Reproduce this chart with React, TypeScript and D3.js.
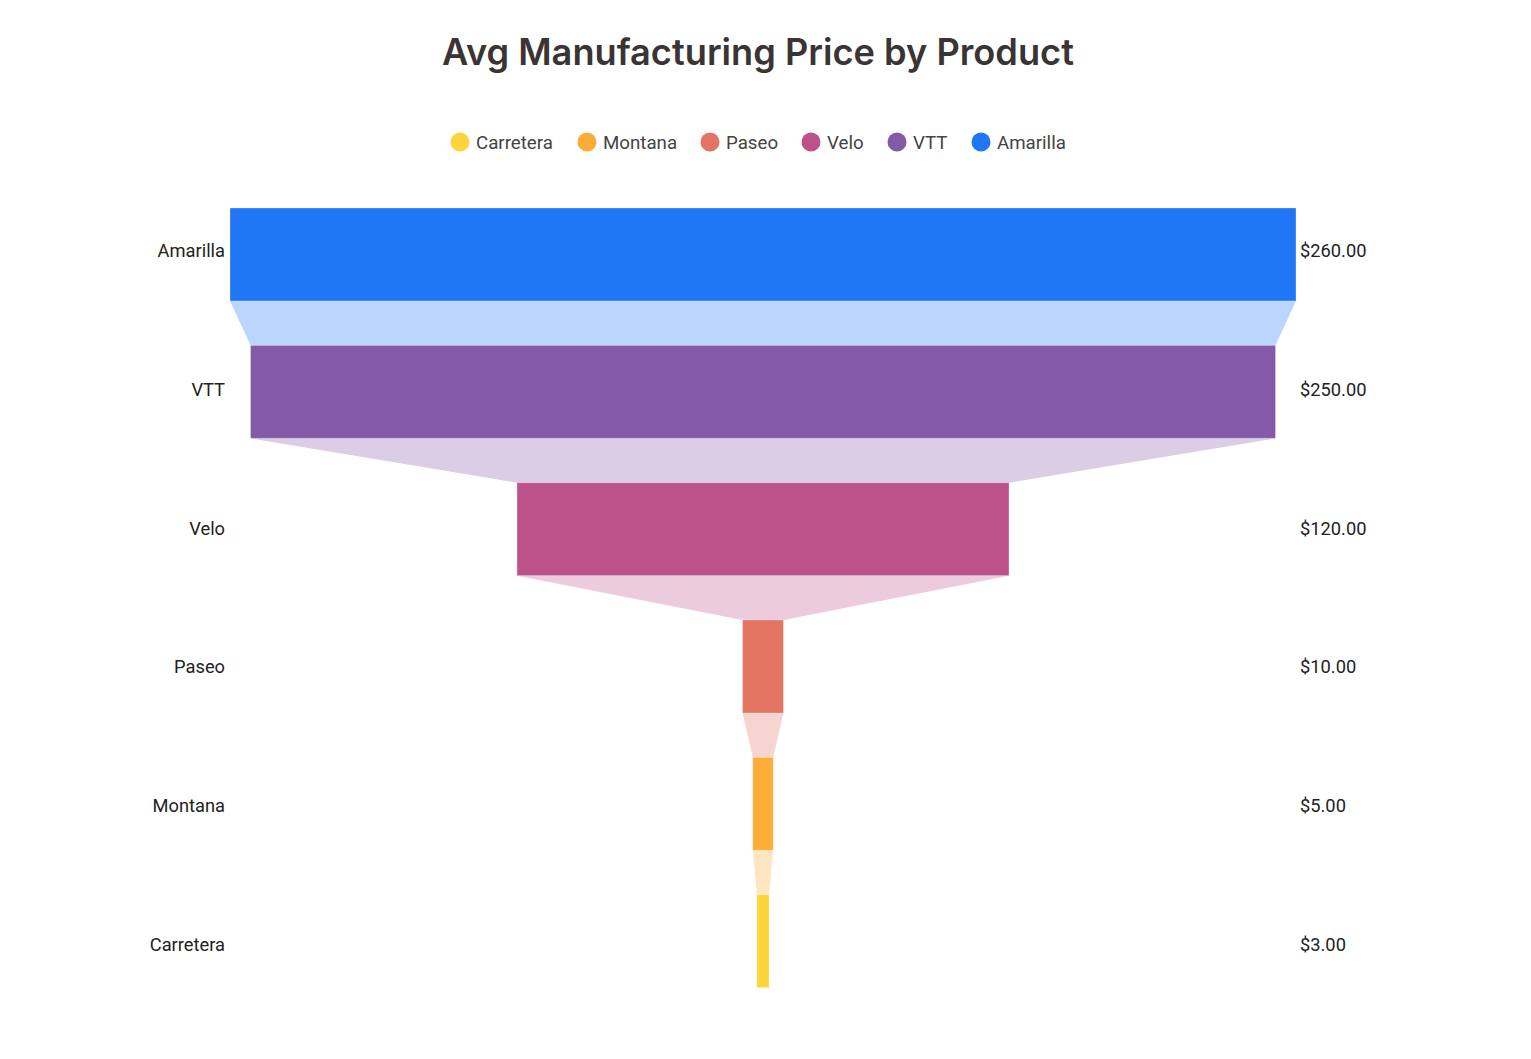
import React from "react";
import * as d3 from "d3";

const products = ["Amarilla", "VTT", "Velo", "Paseo", "Montana", "Carretera"];
const values = [260, 250, 120, 10, 5, 3];
const colors = ["#1f77f5", "#8459a8", "#bd528b", "#e27462", "#fcad37", "#fed43c"];
const legendOrder = ["Carretera", "Montana", "Paseo", "Velo", "VTT", "Amarilla"];
const legendX = [460, 587, 710, 811, 897, 981];

const W = 1531;
const H = 1059;
const CX = 763;
const TOP = 208;
const BOTTOM = 987.5;

export default function App() {
  const x = d3.scaleLinear().domain([0, 260]).range([0, 1066]);
  const band = d3
    .scaleBand<string>()
    .domain(products)
    .range([TOP, BOTTOM + 44.5])
    .paddingInner(0)
    .paddingOuter(0);
  const labelY = d3.scalePoint<string>().domain(products).range([250.5, 944.5]);
  const step = band.step();
  const barH = 93;
  const fmt = (v: number) => "$" + d3.format(",.2f")(v);
  const colorOf = (p: string) => colors[products.indexOf(p)];

  return (
    <svg
      width={W}
      height={H}
      style={{ position: "absolute", left: 0, top: 0, background: "#fff" }}
    >
      <text
        x={758}
        y={52}
        textAnchor="middle"
        dominantBaseline="central"
        fontFamily="Inter, 'Open Sans', sans-serif"
        fontWeight={600}
        fontSize={36.2}
        fill="#3a3434"
      >
        Avg Manufacturing Price by Product
      </text>
      {legendOrder.map((p, i) => (
        <g key={p}>
          <circle cx={legendX[i]} cy={142} r={9.5} fill={colorOf(p)} />
          <text
            x={legendX[i] + 16}
            y={143}
            dominantBaseline="central"
            fontFamily="Roboto, sans-serif"
            fontSize={18.7}
            fill="#444"
          >
            {p}
          </text>
        </g>
      ))}
      {products.map((p, i) => {
        const y0 = band(p)!;
        const w = x(values[i]);
        const y1 = y0 + barH;
        const next = i < products.length - 1 ? x(values[i + 1]) : null;
        const pts =
          next !== null
            ? [
                [CX - w / 2, y1],
                [CX + w / 2, y1],
                [CX + next / 2, y0 + step],
                [CX - next / 2, y0 + step],
              ]
            : null;
        const ly = labelY(p)!;
        return (
          <g key={p}>
            {pts && (
              <polygon
                points={pts.map((q) => q.join(",")).join(" ")}
                fill={colors[i]}
                fillOpacity={0.3}
              />
            )}
            <rect
              x={CX - w / 2}
              y={y0}
              width={w}
              height={barH}
              fill={colors[i]}
              stroke="#fff"
              strokeOpacity={0.3}
              strokeWidth={1}
            />
            <text
              x={225}
              y={ly}
              textAnchor="end"
              dominantBaseline="central"
              fontFamily="Roboto, sans-serif"
              fontSize={18.3}
              fill="#222"
            >
              {p}
            </text>
            <text
              x={1300}
              y={ly}
              textAnchor="start"
              dominantBaseline="central"
              fontFamily="Roboto, sans-serif"
              fontSize={18.3}
              fill="#222"
            >
              {fmt(values[i])}
            </text>
          </g>
        );
      })}
    </svg>
  );
}
